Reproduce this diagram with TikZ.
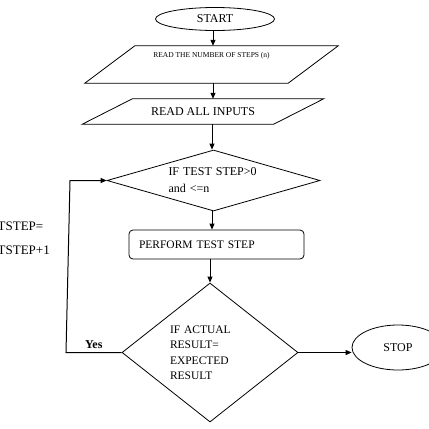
\documentclass[tikz,border=0pt]{standalone}
\usepackage{fontspec}
\setmainfont{Liberation Serif}
\usepackage{xcolor}
\usepackage{tikz}
\usetikzlibrary{shapes.geometric, arrows.meta, positioning, calc}

\begin{document}
\begin{tikzpicture}[x=1pt, y=-1pt,
        terminal/.style={ellipse, draw=black, line width=0.8pt, inner sep=0pt, font=\fontsize{12}{14}\selectfont},
        io/.style={rectangle, inner sep=0pt},
        slanted/.style={draw=black, line width=0.8pt},
        decision/.style={diamond, draw=black, line width=0.8pt, inner sep=0pt, align=left, font=\fontsize{12}{17}\selectfont},
        process/.style={rectangle, draw=black, line width=0.8pt, rounded corners=4pt, inner sep=0pt, align=left, font=\fontsize{11.5}{14}\selectfont},
        arrow/.style={-{Triangle[length=6pt, width=5pt]}, line width=1pt}
    ]
    \useasboundingbox (0,0) rectangle (429,429);

    % Start
    \node (start) [terminal, minimum width=119, minimum height=23] at (215,19) {START};

    % Inputs
    \node (steps) [io, minimum width=203, minimum height=37] at (211.5,64.5)
        {\raisebox{7pt}[0pt][0pt]{\fontsize{7.5}{8}\selectfont READ THE NUMBER OF STEPS (n)}};
    \draw[slanted] ($(steps.south west)+(-25,0)$) -- ($(steps.south east)+(-25,0)$)
        -- ($(steps.north east)+(25,0)$) -- ($(steps.north west)+(25,0)$) -- cycle;

    \node (inputs) [io, minimum width=191, minimum height=25] at (203,111.5)
        {\fontsize{12}{14}\selectfont READ ALL INPUTS};
    \draw[slanted] ($(inputs.south west)+(-25,0)$) -- ($(inputs.south east)+(-25,0)$)
        -- ($(inputs.north east)+(25,0)$) -- ($(inputs.north west)+(25,0)$) -- cycle;

    % Loop test
    \node (test) [decision, shape aspect=3.5, minimum width=213, minimum height=61, text width=90] at (213.5,180.5) {IF TEST STEP>0\\and <=n};

    % Step
    \node (perform) [process, minimum width=175, minimum height=29, text width=155] at (216.5,244.5) {PERFORM TEST STEP};

    % Result check
    \node (check) [decision, shape aspect=1.27, minimum width=176, minimum height=139, text width=80, font=\fontsize{11.5}{15.5}\selectfont] at (210,352.5)
        {IF ACTUAL\\RESULT=\\EXPECTED\\RESULT};

    % Stop
    \node (stop) [terminal, minimum width=92, minimum height=45] at (398,347.5) {STOP};

    % Increment
    \node (incr) [anchor=west, align=left, font=\fontsize{13}{24}\selectfont] at (-29,238) {TESTSTEP=\\TESTSTEP+1};

    % Edges
    \draw[arrow] (start.south -| 213,0) -- (steps.north -| 213,0);
    \draw[arrow] (steps.south -| 213,0) -- (inputs.north -| 213,0);
    \draw[arrow] (inputs.south -| 212,0) -- (test.north -| 212,0);
    \draw[arrow] (test.south -| 212,0) -- (perform.north -| 212,0);
    \draw[arrow] (perform.south -| 210,0) -- (check.north);
    \draw[arrow] (check.east) -- (stop.west |- check.east);

    \coordinate (loopdown) at (66,352.5);
    \coordinate (loopup) at (70,180.5);
    \draw[arrow] (check.west) -- node[above, pos=0.5, font=\bfseries\fontsize{12}{14}\selectfont] {Yes} (loopdown) -- (loopup) -- (test.west);

\end{tikzpicture}
\end{document}
